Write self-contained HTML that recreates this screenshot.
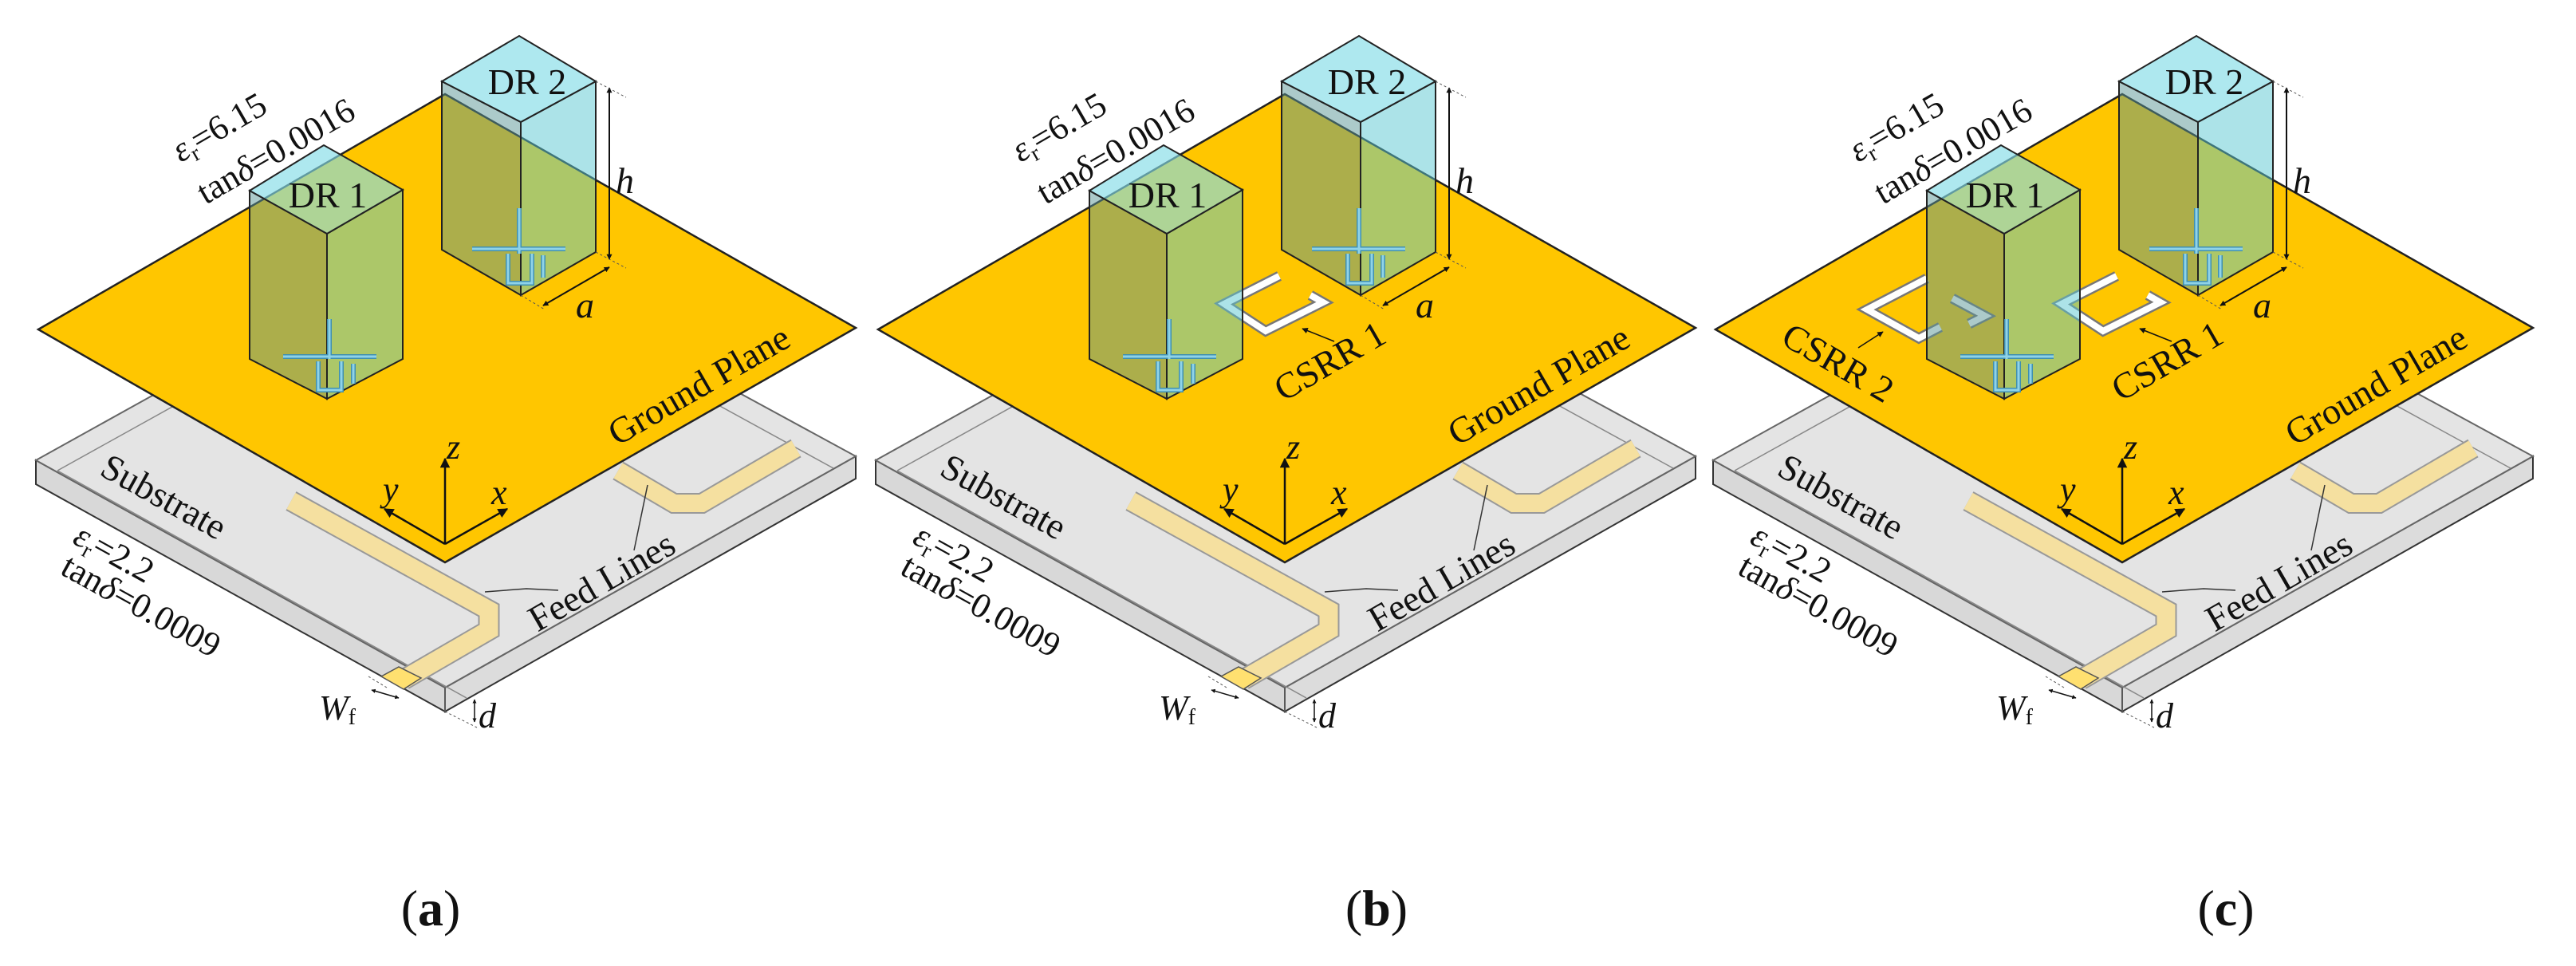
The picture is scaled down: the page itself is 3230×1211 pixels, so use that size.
<!DOCTYPE html>
<html><head><meta charset="utf-8"><style>
html,body{margin:0;padding:0;background:#fff;}
svg{display:block;}
text{font-family:"Liberation Serif",serif;fill:#111;}
</style></head><body>
<svg width="3230" height="1211" viewBox="0 0 3230 1211" xmlns="http://www.w3.org/2000/svg">
<defs>
<marker id="ar" viewBox="0 0 10 10" refX="9" refY="5" markerWidth="5" markerHeight="5" orient="auto"><path d="M0,0 L10,5 L0,10 z" fill="#111"/></marker>
<marker id="sa" viewBox="0 0 10 10" refX="9" refY="5" markerWidth="3.5" markerHeight="3.5" orient="auto-start-reverse"><path d="M0,0 L10,5 L0,10 z" fill="#111"/></marker>
</defs>

<!-- ================= PANEL A ================= -->
<g transform="translate(0,0)">
<polygon points="45,577 558,862 558,892 45,607" fill="#d8d8d8" stroke="#333" stroke-width="2"/>
<polygon points="558,862 1073,572 1073,600 558,892" fill="#dcdcdc" stroke="#333" stroke-width="2"/>
<polygon points="45,577 558,292 1073,572 558,862" fill="#e4e4e4" stroke="#666" stroke-width="2"/>
<polyline points="72,590 558,320 1045,587" fill="none" stroke="#888" stroke-width="1.5"/>
<line x1="558" y1="862" x2="558" y2="892" stroke="#666" stroke-width="1.5"/>
<line x1="72" y1="590" x2="585" y2="875" stroke="#888" stroke-width="1.5"/>
<polyline points="365,628 613,765 613,790 506,852" fill="none" stroke="#999" stroke-width="27"/>
<polyline points="365,628 613,765 613,790 506,852" fill="none" stroke="#f5e0a0" stroke-width="23"/>
<polygon points="478,848 500,836 528,850 506,864" fill="#ffe070" stroke="#555" stroke-width="1.5"/>
<polyline points="775,590 845,631 880,631 998,562" fill="none" stroke="#999" stroke-width="26"/>
<polyline points="775,590 845,631 880,631 998,562" fill="none" stroke="#f5e0a0" stroke-width="22"/>
<polygon points="48,413 558,118 1073,411 558,705" fill="#ffc600" stroke="#222" stroke-width="2.5"/>
<line x1="558" y1="682" x2="558" y2="575" stroke="#111" stroke-width="2.5" marker-end="url(#ar)"/>
<line x1="558" y1="682" x2="482" y2="638" stroke="#111" stroke-width="2.5" marker-end="url(#ar)"/>
<line x1="558" y1="682" x2="636" y2="638" stroke="#111" stroke-width="2.5" marker-end="url(#ar)"/>
<text x="560" y="575" font-size="44" font-style="italic">z</text>
<text x="480" y="628" font-size="44" font-style="italic">y</text>
<text x="616" y="632" font-size="44" font-style="italic">x</text>
<polygon points="554,102 653,153 653,370 554,313" fill="rgba(90,150,150,0.5)" stroke="#222" stroke-width="2"/>
<polygon points="653,153 747,102 747,316 653,370" fill="rgba(90,200,210,0.5)" stroke="#222" stroke-width="2"/>
<polygon points="554,102 651,45 747,102 653,153" fill="rgba(130,220,230,0.65)" stroke="#222" stroke-width="2"/>
<g stroke="#3f8fb0" stroke-width="6" fill="none"><line x1="651" y1="261" x2="651" y2="318"/><line x1="592" y1="312" x2="709" y2="312"/><path d="M637,318 V355 H667 V318"/><line x1="681" y1="320" x2="681" y2="348"/></g>
<g stroke="#8fd3e8" stroke-width="3" fill="none"><line x1="651" y1="261" x2="651" y2="318"/><line x1="592" y1="312" x2="709" y2="312"/><path d="M637,318 V355 H667 V318"/><line x1="681" y1="320" x2="681" y2="348"/></g>
<polygon points="313,239 410,293 410,500 313,450" fill="rgba(90,150,150,0.5)" stroke="#222" stroke-width="2"/>
<polygon points="410,293 505,238 505,450 410,500" fill="rgba(90,200,210,0.5)" stroke="#222" stroke-width="2"/>
<polygon points="313,239 406,182 505,238 410,293" fill="rgba(130,220,230,0.65)" stroke="#222" stroke-width="2"/>
<g stroke="#3f8fb0" stroke-width="6" fill="none"><line x1="413" y1="400" x2="413" y2="450"/><line x1="355" y1="447" x2="472" y2="447"/><path d="M399,453 V489 H428 V453"/><line x1="443" y1="456" x2="443" y2="481"/></g>
<g stroke="#8fd3e8" stroke-width="3" fill="none"><line x1="413" y1="400" x2="413" y2="450"/><line x1="355" y1="447" x2="472" y2="447"/><path d="M399,453 V489 H428 V453"/><line x1="443" y1="456" x2="443" y2="481"/></g>
<line x1="764" y1="110" x2="764" y2="325" stroke="#111" stroke-width="2" marker-start="url(#sa)" marker-end="url(#sa)"/>
<line x1="747" y1="102" x2="785" y2="122" stroke="#555" stroke-width="1" stroke-dasharray="3,3"/>
<line x1="747" y1="316" x2="785" y2="336" stroke="#555" stroke-width="1" stroke-dasharray="3,3"/>
<line x1="681" y1="383" x2="764" y2="335" stroke="#111" stroke-width="2" marker-start="url(#sa)" marker-end="url(#sa)"/>
<line x1="653" y1="370" x2="683" y2="388" stroke="#555" stroke-width="1" stroke-dasharray="3,3"/>
<text x="772" y="242" font-size="46" font-style="italic">h</text>
<text x="722" y="398" font-size="46" font-style="italic">a</text>
<line x1="462" y1="848" x2="485" y2="862" stroke="#555" stroke-width="1" stroke-dasharray="3,3"/>
<line x1="466" y1="865" x2="500" y2="875" stroke="#111" stroke-width="1.5" marker-start="url(#sa)" marker-end="url(#sa)"/>
<line x1="595" y1="877" x2="595" y2="905" stroke="#111" stroke-width="1.5" marker-start="url(#sa)" marker-end="url(#sa)"/>
<line x1="558" y1="892" x2="598" y2="912" stroke="#555" stroke-width="1" stroke-dasharray="3,3"/>
<text x="400" y="902" font-size="44" font-style="italic">W<tspan font-size="28" font-style="normal" dy="6">f</tspan></text>
<text x="600" y="912" font-size="44" font-style="italic">d</text>
<polyline points="608,742 660,738 700,740" fill="none" stroke="#333" stroke-width="1.5"/>
<line x1="812" y1="608" x2="795" y2="690" stroke="#333" stroke-width="1.5"/>
<text transform="translate(282,172) rotate(-30)" font-size="44" text-anchor="middle"><tspan font-style="italic">ε</tspan><tspan font-size="28" dy="8">r</tspan><tspan dy="-8">=6.15</tspan></text>
<text transform="translate(353,202) rotate(-30)" font-size="44" text-anchor="middle">tan<tspan font-style="italic">δ</tspan>=0.0016</text>
<text x="411" y="260" font-size="46" text-anchor="middle">DR 1</text>
<text x="661" y="118" font-size="46" text-anchor="middle">DR 2</text>
<text transform="translate(884,496) rotate(-30)" font-size="46" text-anchor="middle">Ground Plane</text>
<text transform="translate(198,636) rotate(29)" font-size="46" text-anchor="middle">Substrate</text>
<text transform="translate(136,706) rotate(29)" font-size="44" text-anchor="middle"><tspan font-style="italic">ε</tspan><tspan font-size="28" dy="8">r</tspan><tspan dy="-8">=2.2</tspan></text>
<text transform="translate(170,772) rotate(29)" font-size="44" text-anchor="middle">tan<tspan font-style="italic">δ</tspan>=0.0009</text>
<text transform="translate(762,742) rotate(-30)" font-size="46" text-anchor="middle">Feed Lines</text>
<text x="540" y="1160" font-size="64" text-anchor="middle">(<tspan font-weight="bold">a</tspan>)</text>
</g>

<!-- ================= PANEL B ================= -->
<g transform="translate(1053,0)">
<polygon points="45,577 558,862 558,892 45,607" fill="#d8d8d8" stroke="#333" stroke-width="2"/>
<polygon points="558,862 1073,572 1073,600 558,892" fill="#dcdcdc" stroke="#333" stroke-width="2"/>
<polygon points="45,577 558,292 1073,572 558,862" fill="#e4e4e4" stroke="#666" stroke-width="2"/>
<polyline points="72,590 558,320 1045,587" fill="none" stroke="#888" stroke-width="1.5"/>
<line x1="558" y1="862" x2="558" y2="892" stroke="#666" stroke-width="1.5"/>
<line x1="72" y1="590" x2="585" y2="875" stroke="#888" stroke-width="1.5"/>
<polyline points="365,628 613,765 613,790 506,852" fill="none" stroke="#999" stroke-width="27"/>
<polyline points="365,628 613,765 613,790 506,852" fill="none" stroke="#f5e0a0" stroke-width="23"/>
<polygon points="478,848 500,836 528,850 506,864" fill="#ffe070" stroke="#555" stroke-width="1.5"/>
<polyline points="775,590 845,631 880,631 998,562" fill="none" stroke="#999" stroke-width="26"/>
<polyline points="775,590 845,631 880,631 998,562" fill="none" stroke="#f5e0a0" stroke-width="22"/>
<polygon points="48,413 558,118 1073,411 558,705" fill="#ffc600" stroke="#222" stroke-width="2.5"/>
<polyline points="551,346 482,381 534,415 606,379 590,370" fill="none" stroke="#777" stroke-width="13"/>
<polyline points="551,346 482,381 534,415 606,379 590,370" fill="none" stroke="#fff" stroke-width="8"/>
<line x1="620" y1="428" x2="580" y2="412" stroke="#111" stroke-width="1.5" marker-end="url(#ar)"/>
<text transform="translate(622,466) rotate(-30)" font-size="46" text-anchor="middle">CSRR 1</text>
<line x1="558" y1="682" x2="558" y2="575" stroke="#111" stroke-width="2.5" marker-end="url(#ar)"/>
<line x1="558" y1="682" x2="482" y2="638" stroke="#111" stroke-width="2.5" marker-end="url(#ar)"/>
<line x1="558" y1="682" x2="636" y2="638" stroke="#111" stroke-width="2.5" marker-end="url(#ar)"/>
<text x="560" y="575" font-size="44" font-style="italic">z</text>
<text x="480" y="628" font-size="44" font-style="italic">y</text>
<text x="616" y="632" font-size="44" font-style="italic">x</text>
<polygon points="554,102 653,153 653,370 554,313" fill="rgba(90,150,150,0.5)" stroke="#222" stroke-width="2"/>
<polygon points="653,153 747,102 747,316 653,370" fill="rgba(90,200,210,0.5)" stroke="#222" stroke-width="2"/>
<polygon points="554,102 651,45 747,102 653,153" fill="rgba(130,220,230,0.65)" stroke="#222" stroke-width="2"/>
<g stroke="#3f8fb0" stroke-width="6" fill="none"><line x1="651" y1="261" x2="651" y2="318"/><line x1="592" y1="312" x2="709" y2="312"/><path d="M637,318 V355 H667 V318"/><line x1="681" y1="320" x2="681" y2="348"/></g>
<g stroke="#8fd3e8" stroke-width="3" fill="none"><line x1="651" y1="261" x2="651" y2="318"/><line x1="592" y1="312" x2="709" y2="312"/><path d="M637,318 V355 H667 V318"/><line x1="681" y1="320" x2="681" y2="348"/></g>
<polygon points="313,239 410,293 410,500 313,450" fill="rgba(90,150,150,0.5)" stroke="#222" stroke-width="2"/>
<polygon points="410,293 505,238 505,450 410,500" fill="rgba(90,200,210,0.5)" stroke="#222" stroke-width="2"/>
<polygon points="313,239 406,182 505,238 410,293" fill="rgba(130,220,230,0.65)" stroke="#222" stroke-width="2"/>
<g stroke="#3f8fb0" stroke-width="6" fill="none"><line x1="413" y1="400" x2="413" y2="450"/><line x1="355" y1="447" x2="472" y2="447"/><path d="M399,453 V489 H428 V453"/><line x1="443" y1="456" x2="443" y2="481"/></g>
<g stroke="#8fd3e8" stroke-width="3" fill="none"><line x1="413" y1="400" x2="413" y2="450"/><line x1="355" y1="447" x2="472" y2="447"/><path d="M399,453 V489 H428 V453"/><line x1="443" y1="456" x2="443" y2="481"/></g>
<line x1="764" y1="110" x2="764" y2="325" stroke="#111" stroke-width="2" marker-start="url(#sa)" marker-end="url(#sa)"/>
<line x1="747" y1="102" x2="785" y2="122" stroke="#555" stroke-width="1" stroke-dasharray="3,3"/>
<line x1="747" y1="316" x2="785" y2="336" stroke="#555" stroke-width="1" stroke-dasharray="3,3"/>
<line x1="681" y1="383" x2="764" y2="335" stroke="#111" stroke-width="2" marker-start="url(#sa)" marker-end="url(#sa)"/>
<line x1="653" y1="370" x2="683" y2="388" stroke="#555" stroke-width="1" stroke-dasharray="3,3"/>
<text x="772" y="242" font-size="46" font-style="italic">h</text>
<text x="722" y="398" font-size="46" font-style="italic">a</text>
<line x1="462" y1="848" x2="485" y2="862" stroke="#555" stroke-width="1" stroke-dasharray="3,3"/>
<line x1="466" y1="865" x2="500" y2="875" stroke="#111" stroke-width="1.5" marker-start="url(#sa)" marker-end="url(#sa)"/>
<line x1="595" y1="877" x2="595" y2="905" stroke="#111" stroke-width="1.5" marker-start="url(#sa)" marker-end="url(#sa)"/>
<line x1="558" y1="892" x2="598" y2="912" stroke="#555" stroke-width="1" stroke-dasharray="3,3"/>
<text x="400" y="902" font-size="44" font-style="italic">W<tspan font-size="28" font-style="normal" dy="6">f</tspan></text>
<text x="600" y="912" font-size="44" font-style="italic">d</text>
<polyline points="608,742 660,738 700,740" fill="none" stroke="#333" stroke-width="1.5"/>
<line x1="812" y1="608" x2="795" y2="690" stroke="#333" stroke-width="1.5"/>
<text transform="translate(282,172) rotate(-30)" font-size="44" text-anchor="middle"><tspan font-style="italic">ε</tspan><tspan font-size="28" dy="8">r</tspan><tspan dy="-8">=6.15</tspan></text>
<text transform="translate(353,202) rotate(-30)" font-size="44" text-anchor="middle">tan<tspan font-style="italic">δ</tspan>=0.0016</text>
<text x="411" y="260" font-size="46" text-anchor="middle">DR 1</text>
<text x="661" y="118" font-size="46" text-anchor="middle">DR 2</text>
<text transform="translate(884,496) rotate(-30)" font-size="46" text-anchor="middle">Ground Plane</text>
<text transform="translate(198,636) rotate(29)" font-size="46" text-anchor="middle">Substrate</text>
<text transform="translate(136,706) rotate(29)" font-size="44" text-anchor="middle"><tspan font-style="italic">ε</tspan><tspan font-size="28" dy="8">r</tspan><tspan dy="-8">=2.2</tspan></text>
<text transform="translate(170,772) rotate(29)" font-size="44" text-anchor="middle">tan<tspan font-style="italic">δ</tspan>=0.0009</text>
<text transform="translate(762,742) rotate(-30)" font-size="46" text-anchor="middle">Feed Lines</text>
<text x="673" y="1160" font-size="64" text-anchor="middle">(<tspan font-weight="bold">b</tspan>)</text>
</g>

<!-- ================= PANEL C ================= -->
<g transform="translate(2103,0)">
<polygon points="45,577 558,862 558,892 45,607" fill="#d8d8d8" stroke="#333" stroke-width="2"/>
<polygon points="558,862 1073,572 1073,600 558,892" fill="#dcdcdc" stroke="#333" stroke-width="2"/>
<polygon points="45,577 558,292 1073,572 558,862" fill="#e4e4e4" stroke="#666" stroke-width="2"/>
<polyline points="72,590 558,320 1045,587" fill="none" stroke="#888" stroke-width="1.5"/>
<line x1="558" y1="862" x2="558" y2="892" stroke="#666" stroke-width="1.5"/>
<line x1="72" y1="590" x2="585" y2="875" stroke="#888" stroke-width="1.5"/>
<polyline points="365,628 613,765 613,790 506,852" fill="none" stroke="#999" stroke-width="27"/>
<polyline points="365,628 613,765 613,790 506,852" fill="none" stroke="#f5e0a0" stroke-width="23"/>
<polygon points="478,848 500,836 528,850 506,864" fill="#ffe070" stroke="#555" stroke-width="1.5"/>
<polyline points="775,590 845,631 880,631 998,562" fill="none" stroke="#999" stroke-width="26"/>
<polyline points="775,590 845,631 880,631 998,562" fill="none" stroke="#f5e0a0" stroke-width="22"/>
<polygon points="48,413 558,118 1073,411 558,705" fill="#ffc600" stroke="#222" stroke-width="2.5"/>
<polyline points="551,346 482,381 534,415 606,379 590,370" fill="none" stroke="#777" stroke-width="13"/>
<polyline points="551,346 482,381 534,415 606,379 590,370" fill="none" stroke="#fff" stroke-width="8"/>
<polyline points="313,349 238,388 303,424 330,410" fill="none" stroke="#777" stroke-width="13"/>
<polyline points="313,349 238,388 303,424 330,410" fill="none" stroke="#fff" stroke-width="8"/>
<polyline points="345,374 386,396 366,406" fill="none" stroke="#777" stroke-width="13"/>
<polyline points="345,374 386,396 366,406" fill="none" stroke="#fff" stroke-width="8"/>
<line x1="620" y1="428" x2="580" y2="412" stroke="#111" stroke-width="1.5" marker-end="url(#ar)"/>
<text transform="translate(622,466) rotate(-30)" font-size="46" text-anchor="middle">CSRR 1</text>
<line x1="227" y1="436" x2="258" y2="416" stroke="#111" stroke-width="1.5" marker-end="url(#ar)"/>
<text transform="translate(194,468) rotate(30)" font-size="46" text-anchor="middle">CSRR 2</text>
<line x1="558" y1="682" x2="558" y2="575" stroke="#111" stroke-width="2.5" marker-end="url(#ar)"/>
<line x1="558" y1="682" x2="482" y2="638" stroke="#111" stroke-width="2.5" marker-end="url(#ar)"/>
<line x1="558" y1="682" x2="636" y2="638" stroke="#111" stroke-width="2.5" marker-end="url(#ar)"/>
<text x="560" y="575" font-size="44" font-style="italic">z</text>
<text x="480" y="628" font-size="44" font-style="italic">y</text>
<text x="616" y="632" font-size="44" font-style="italic">x</text>
<polygon points="554,102 653,153 653,370 554,313" fill="rgba(90,150,150,0.5)" stroke="#222" stroke-width="2"/>
<polygon points="653,153 747,102 747,316 653,370" fill="rgba(90,200,210,0.5)" stroke="#222" stroke-width="2"/>
<polygon points="554,102 651,45 747,102 653,153" fill="rgba(130,220,230,0.65)" stroke="#222" stroke-width="2"/>
<g stroke="#3f8fb0" stroke-width="6" fill="none"><line x1="651" y1="261" x2="651" y2="318"/><line x1="592" y1="312" x2="709" y2="312"/><path d="M637,318 V355 H667 V318"/><line x1="681" y1="320" x2="681" y2="348"/></g>
<g stroke="#8fd3e8" stroke-width="3" fill="none"><line x1="651" y1="261" x2="651" y2="318"/><line x1="592" y1="312" x2="709" y2="312"/><path d="M637,318 V355 H667 V318"/><line x1="681" y1="320" x2="681" y2="348"/></g>
<polygon points="313,239 410,293 410,500 313,450" fill="rgba(90,150,150,0.5)" stroke="#222" stroke-width="2"/>
<polygon points="410,293 505,238 505,450 410,500" fill="rgba(90,200,210,0.5)" stroke="#222" stroke-width="2"/>
<polygon points="313,239 406,182 505,238 410,293" fill="rgba(130,220,230,0.65)" stroke="#222" stroke-width="2"/>
<g stroke="#3f8fb0" stroke-width="6" fill="none"><line x1="413" y1="400" x2="413" y2="450"/><line x1="355" y1="447" x2="472" y2="447"/><path d="M399,453 V489 H428 V453"/><line x1="443" y1="456" x2="443" y2="481"/></g>
<g stroke="#8fd3e8" stroke-width="3" fill="none"><line x1="413" y1="400" x2="413" y2="450"/><line x1="355" y1="447" x2="472" y2="447"/><path d="M399,453 V489 H428 V453"/><line x1="443" y1="456" x2="443" y2="481"/></g>
<line x1="764" y1="110" x2="764" y2="325" stroke="#111" stroke-width="2" marker-start="url(#sa)" marker-end="url(#sa)"/>
<line x1="747" y1="102" x2="785" y2="122" stroke="#555" stroke-width="1" stroke-dasharray="3,3"/>
<line x1="747" y1="316" x2="785" y2="336" stroke="#555" stroke-width="1" stroke-dasharray="3,3"/>
<line x1="681" y1="383" x2="764" y2="335" stroke="#111" stroke-width="2" marker-start="url(#sa)" marker-end="url(#sa)"/>
<line x1="653" y1="370" x2="683" y2="388" stroke="#555" stroke-width="1" stroke-dasharray="3,3"/>
<text x="772" y="242" font-size="46" font-style="italic">h</text>
<text x="722" y="398" font-size="46" font-style="italic">a</text>
<line x1="462" y1="848" x2="485" y2="862" stroke="#555" stroke-width="1" stroke-dasharray="3,3"/>
<line x1="466" y1="865" x2="500" y2="875" stroke="#111" stroke-width="1.5" marker-start="url(#sa)" marker-end="url(#sa)"/>
<line x1="595" y1="877" x2="595" y2="905" stroke="#111" stroke-width="1.5" marker-start="url(#sa)" marker-end="url(#sa)"/>
<line x1="558" y1="892" x2="598" y2="912" stroke="#555" stroke-width="1" stroke-dasharray="3,3"/>
<text x="400" y="902" font-size="44" font-style="italic">W<tspan font-size="28" font-style="normal" dy="6">f</tspan></text>
<text x="600" y="912" font-size="44" font-style="italic">d</text>
<polyline points="608,742 660,738 700,740" fill="none" stroke="#333" stroke-width="1.5"/>
<line x1="812" y1="608" x2="795" y2="690" stroke="#333" stroke-width="1.5"/>
<text transform="translate(282,172) rotate(-30)" font-size="44" text-anchor="middle"><tspan font-style="italic">ε</tspan><tspan font-size="28" dy="8">r</tspan><tspan dy="-8">=6.15</tspan></text>
<text transform="translate(353,202) rotate(-30)" font-size="44" text-anchor="middle">tan<tspan font-style="italic">δ</tspan>=0.0016</text>
<text x="411" y="260" font-size="46" text-anchor="middle">DR 1</text>
<text x="661" y="118" font-size="46" text-anchor="middle">DR 2</text>
<text transform="translate(884,496) rotate(-30)" font-size="46" text-anchor="middle">Ground Plane</text>
<text transform="translate(198,636) rotate(29)" font-size="46" text-anchor="middle">Substrate</text>
<text transform="translate(136,706) rotate(29)" font-size="44" text-anchor="middle"><tspan font-style="italic">ε</tspan><tspan font-size="28" dy="8">r</tspan><tspan dy="-8">=2.2</tspan></text>
<text transform="translate(170,772) rotate(29)" font-size="44" text-anchor="middle">tan<tspan font-style="italic">δ</tspan>=0.0009</text>
<text transform="translate(762,742) rotate(-30)" font-size="46" text-anchor="middle">Feed Lines</text>
<text x="688" y="1160" font-size="64" text-anchor="middle">(<tspan font-weight="bold">c</tspan>)</text>
</g>
</svg>
</body></html>
